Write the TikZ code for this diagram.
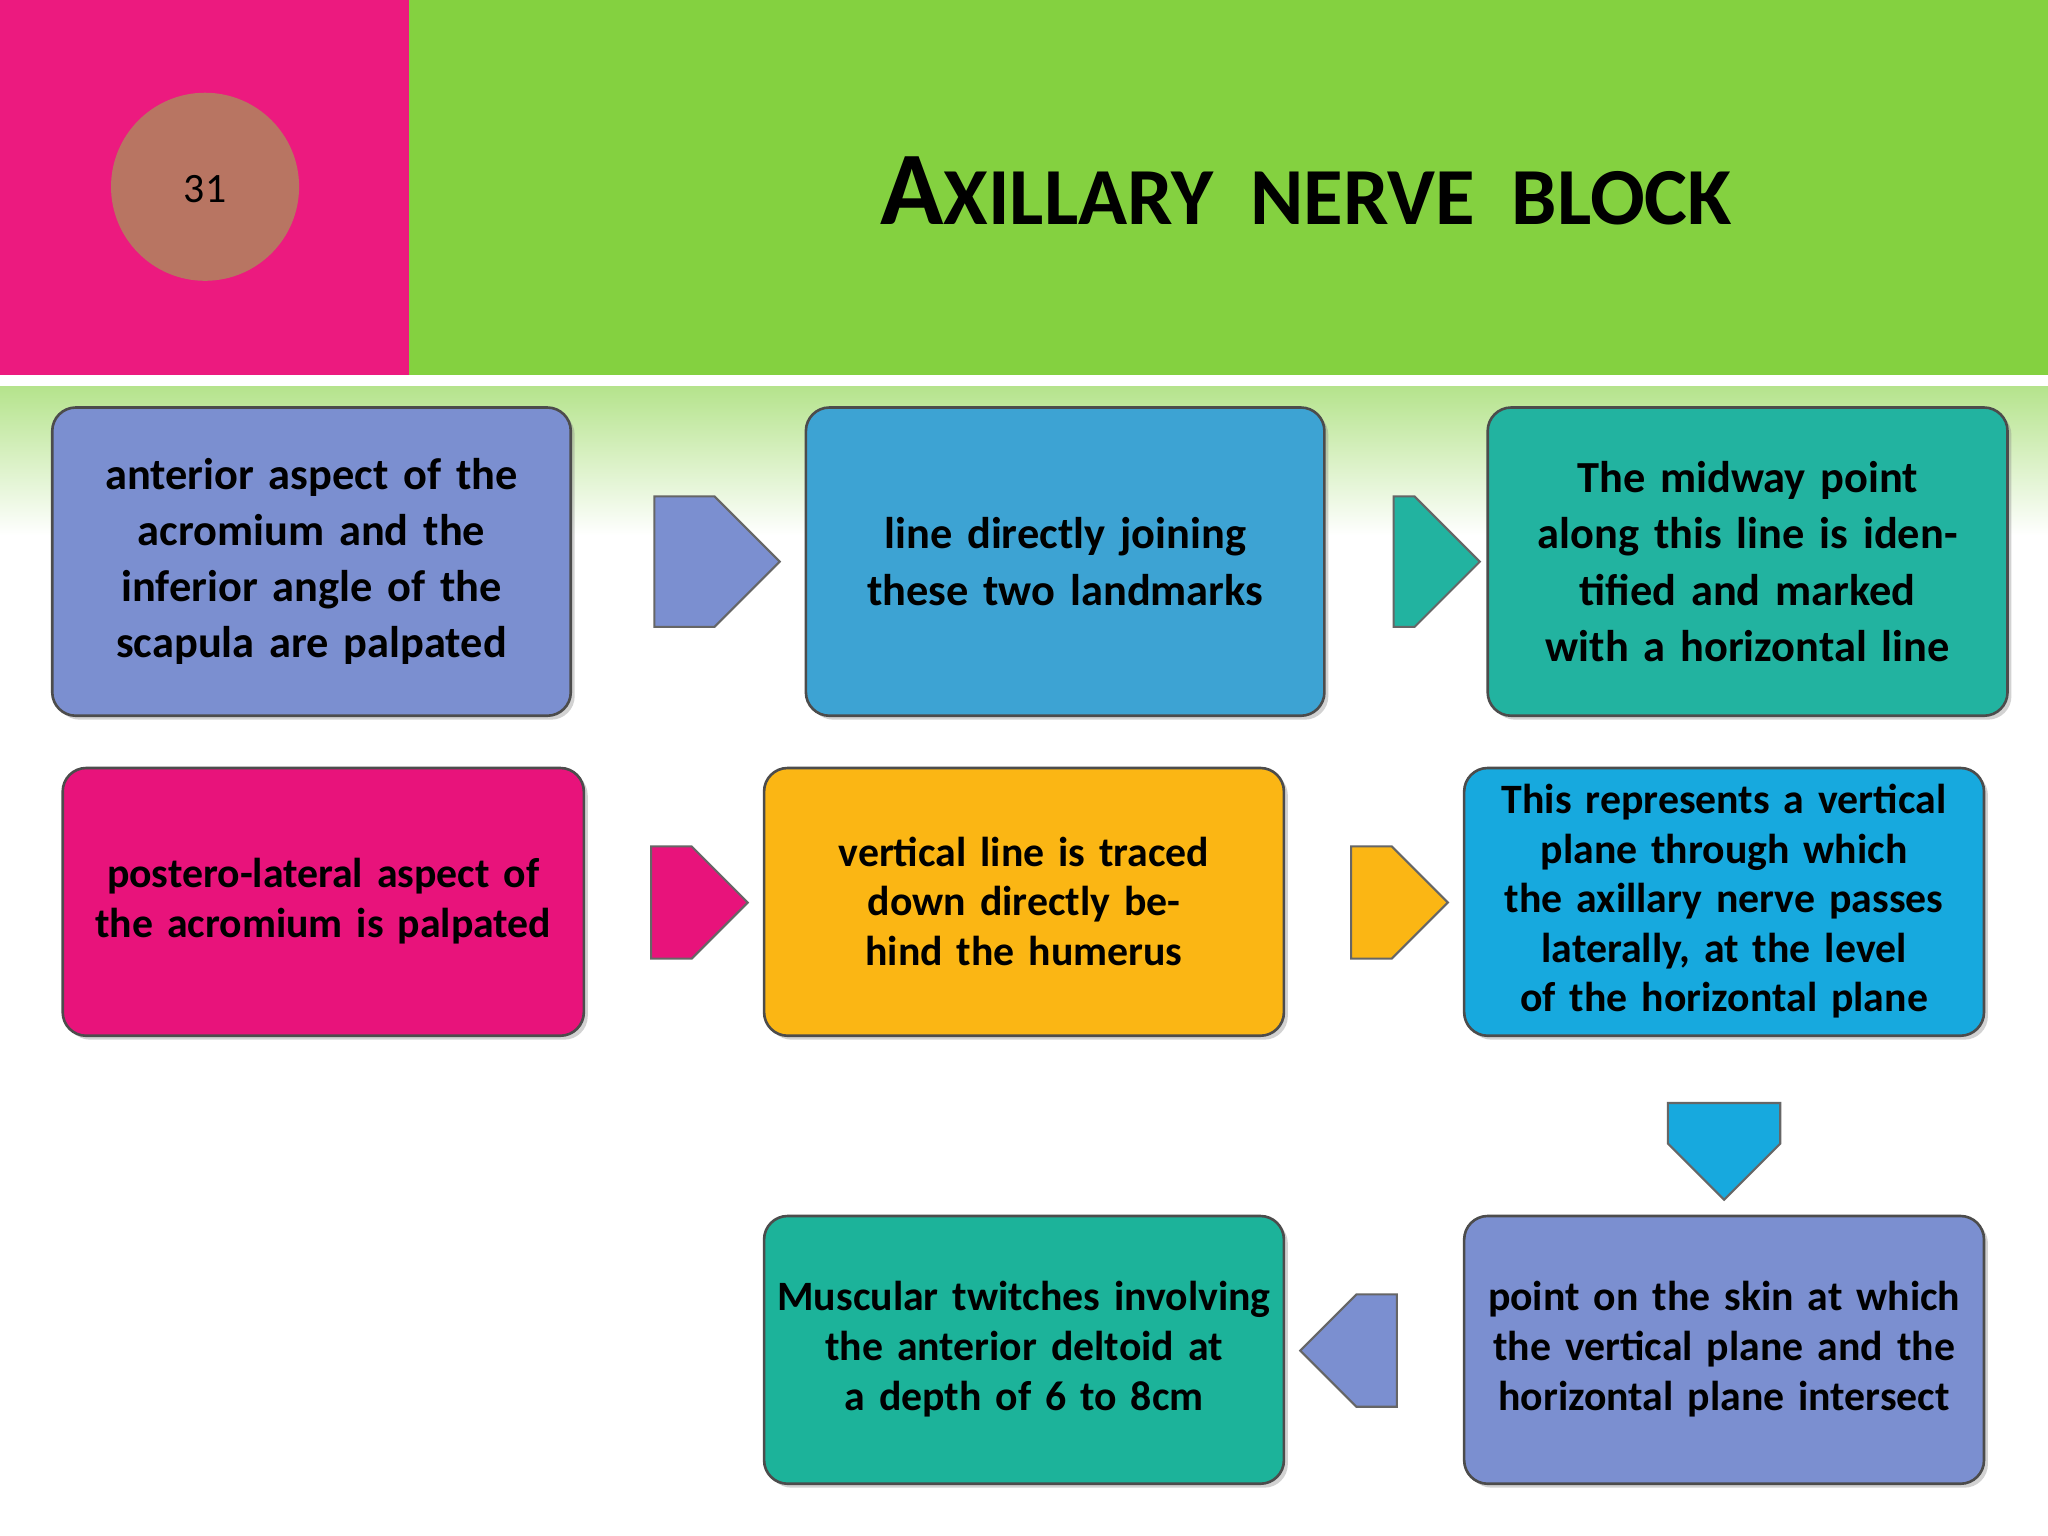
\documentclass[tikz,border=0pt]{standalone}
\usepackage{fontspec}
\setmainfont{Carlito}
\usetikzlibrary{shapes.arrows,shadows}
\definecolor{hpink}{HTML}{EC1A7F}
\definecolor{hgreen}{HTML}{84D140}
\definecolor{cperi}{HTML}{7B8FD0}
\definecolor{cblue}{HTML}{3DA3D3}
\definecolor{cteal}{HTML}{22B3A0}
\definecolor{cpink}{HTML}{E8137B}
\definecolor{corange}{HTML}{FBB614}
\definecolor{ccyan}{HTML}{17A9DE}
\definecolor{cteal2}{HTML}{1CB39A}
\definecolor{circ}{HTML}{B87562}
\tikzset{
 box/.style={draw=black!70,line width=1pt,rounded corners=9pt,drop shadow={opacity=0.35,shadow xshift=1.5pt,shadow yshift=-1.5pt},inner sep=0},
 txt/.style={align=center,font=\bfseries\fontsize{17}{21.5}\selectfont,text width=190pt},
 txt2/.style={align=center,font=\bfseries\fontsize{16}{19}\selectfont,text width=190pt},
 barrow/.style={single arrow,draw=black!60,line width=0.8pt,single arrow head extend=10pt,inner sep=0,anchor=center}
}
\begin{document}
\begin{tikzpicture}[x=0.5pt,y=-0.5pt]
\useasboundingbox (0,0) rectangle (1568,1176);
\fill[white] (0,0) rectangle (1568,1176);
\fill[hpink] (0,0) rectangle (313,287);
\fill[hgreen] (313,0) rectangle (1568,287);
\shade[top color=hgreen!60,bottom color=white] (0,296) rectangle (1568,410);
\node[circle,fill=circ,minimum size=72pt,inner sep=0] (c) at (157,143) {};
\node[font=\fontsize{16}{16}\selectfont] (num) at (157,145) {31};
\node[font=\bfseries\fontsize{40}{40}\selectfont,anchor=base] (title) at (1000,172)
 {A{\fontsize{31}{31}\selectfont XILLARY\ \ NERVE\ \ BLOCK}};
% boxes
\draw[box,fill=cperi] (40,312) rectangle (437,548);
\node[txt] (b1) at (238.5,430) {anterior aspect of the acromium and the inferior angle of the scapula are palpated};
\draw[box,fill=cblue] (617,312) rectangle (1014,548);
\node[txt] (b2) at (815.5,430) {line directly joining these two landmarks};
\draw[box,fill=cteal] (1139,312) rectangle (1537,548);
\node[txt] (b3) at (1338,430) {The midway point along this line is identified and marked with a horizontal line};
\draw[box,fill=cpink] (48,588) rectangle (447,793);
\node[txt2] (b4) at (247.5,690) {postero-lateral aspect of the acromium is palpated};
\draw[box,fill=corange] (585,588) rectangle (983,793);
\node[txt2] (b5) at (784,690) {vertical line is traced down directly behind the humerus};
\draw[box,fill=ccyan] (1121,588) rectangle (1519,793);
\node[txt2] (b6) at (1320,690) {This represents a vertical plane through which the axillary nerve passes laterally, at the level of the horizontal plane};
\draw[box,fill=cteal2] (585,931) rectangle (983,1136);
\node[txt2] (b7) at (784,1033) {Muscular twitches involving the anterior deltoid at a depth of 6 to 8cm};
\draw[box,fill=cperi] (1121,931) rectangle (1519,1136);
\node[txt2] (b8) at (1320,1033) {point on the skin at which the vertical plane and the horizontal plane intersect};
% arrows
\node[barrow,fill=cperi,minimum height=48pt,minimum width=50pt,single arrow head extend=0pt] (a1) at (524,430) {};
\node[barrow,fill=cteal,minimum height=33pt,minimum width=50pt,single arrow head extend=0pt] (a2) at (1075,430) {};
\node[barrow,fill=cpink,minimum height=37pt,minimum width=43pt,single arrow head extend=0pt] (a3) at (514,691) {};
\node[barrow,fill=corange,minimum height=37pt,minimum width=43pt,single arrow head extend=0pt] (a4) at (1050,691) {};
\node[barrow,fill=ccyan,minimum height=37pt,minimum width=43pt,single arrow head extend=0pt,shape border rotate=270] (a5) at (1320,860) {};
\node[barrow,fill=cperi,minimum height=37pt,minimum width=43pt,single arrow head extend=0pt,shape border rotate=180] (a6) at (1054,1034) {};
\end{tikzpicture}
\end{document}
